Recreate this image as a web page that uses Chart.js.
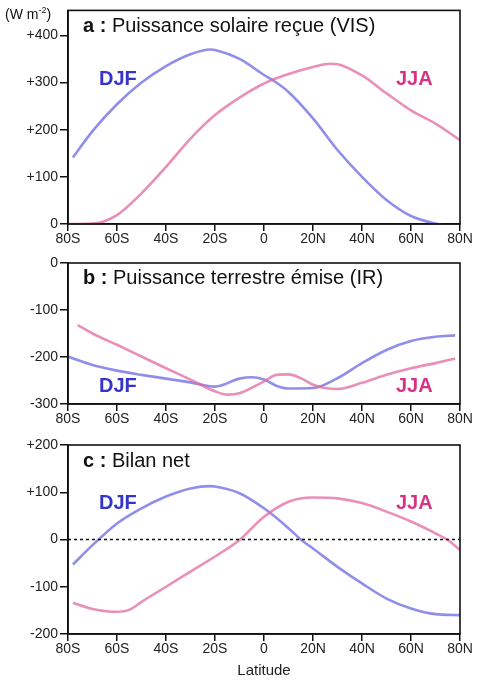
<!DOCTYPE html>
<html>
<head>
<meta charset="utf-8">
<script src="https://cdn.jsdelivr.net/npm/chart.js@4"></script>
<style>
  html,body{margin:0;padding:0;background:#fff;}
  body{width:481px;height:680px;position:relative;overflow:hidden;font-family:"Liberation Sans",Arial,sans-serif;}
  .box{position:absolute;left:0;width:481px;}
  .t{position:absolute;white-space:nowrap;color:#111;line-height:1;}
  .title{font-size:20px;}
  .title b{font-size:20px;}
  .djf{color:#3535cc;font-weight:bold;font-size:20px;}
  .jja{color:#d63384;font-weight:bold;font-size:20px;}
</style>
</head>
<body>
<div class="box" style="top:0;height:250px;"><canvas id="ca"></canvas></div>
<div class="box" style="top:250px;height:175px;"><canvas id="cb"></canvas></div>
<div class="box" style="top:425px;height:255px;"><canvas id="cc"></canvas></div>

<div class="t" style="left:5px;top:6px;font-size:14px;">(W m<sup style="font-size:9px;">-2</sup>)</div>
<div class="t title" style="left:83px;top:15px;"><b>a :</b> Puissance solaire reçue (VIS)</div>
<div class="t title" style="left:83px;top:267px;"><b>b :</b> Puissance terrestre émise (IR)</div>
<div class="t title" style="left:83px;top:450px;"><b>c :</b> Bilan net</div>
<div class="t djf" style="left:99px;top:68px;">DJF</div>
<div class="t jja" style="left:396px;top:68px;">JJA</div>
<div class="t djf" style="left:99px;top:375px;">DJF</div>
<div class="t jja" style="left:396px;top:375px;">JJA</div>
<div class="t djf" style="left:99px;top:492px;">DJF</div>
<div class="t jja" style="left:396px;top:492px;">JJA</div>

<script>
// ---- tick labels ----
const latTicks = [-80,-60,-40,-20,0,20,40,60,80];
const latLabels = ['80S','60S','40S','20S','0','20N','40N','60N','80N'];
const yTicksA = [0,100,200,300,400];
const yLabelsA = ['0','+100','+200','+300','+400'];
const yTicksB = [-300,-200,-100,0];
const yLabelsB = ['-300','-200','-100','0'];
const yTicksC = [-200,-100,0,100,200];
const yLabelsC = ['-200','-100','0','+100','+200'];

// ---- panel a : solar (VIS) ----
const latA_DJF = [-78,-70,-60,-50,-40,-30,-22,-20,-10,0,5,10,20,30,40,50,60,70,75,80];
const valA_DJF = [141,197,254,300,335,360,370,369,350,316,300,280,224,157,100,51,17,1,-3,-2];
const latA_JJA = [-80,-70,-60,-50,-40,-30,-20,-10,0,10,20,27,30,40,50,60,70,80];
const valA_JJA = [0,1,19,65,121,181,231,268,298,318,333,340,339,315,277,241,213,178];

// ---- panel b : terrestrial (IR) ----
const latB_DJF = [-80,-70,-60,-50,-40,-30,-20,-10,-5,0,5,10,20,30,40,50,60,70,78];
const valB_DJF = [-199,-217,-229,-238,-246,-254,-263,-246,-243,-248,-261,-267,-266,-245,-213,-185,-166,-157,-154];
const latB_JJA = [-76,-70,-60,-50,-40,-30,-20,-15,-10,0,5,10,15,20,25,30,40,50,60,70,78];
const valB_JJA = [-132,-150,-174,-199,-224,-248,-273,-280,-277,-252,-238,-237,-245,-259,-266,-268,-255,-238,-224,-213,-203];

// ---- panel c : net balance ----
const latC_DJF = [-78,-70,-60,-50,-40,-30,-22,-20,-10,0,10,15,20,30,40,50,60,70,80];
const valC_DJF = [-53,-12,34,66,91,108,113,112,98,66,24,0,-19,-58,-93,-125,-146,-158,-160];
const latC_JJA = [-78,-70,-60,-55,-50,-40,-30,-20,-10,0,10,20,30,40,50,60,70,75,80];
const valC_JJA = [-134,-147,-153,-149,-132,-100,-68,-36,-1,48,80,89,87,77,59,38,13,-1,-22];

const zeroLat = [-80,80];
const zeroVal = [0,0];

const BLUE = 'rgba(105,105,228,0.75)';
const PINK = 'rgba(225,105,160,0.75)';

function pts(xs, ys){ return xs.map((x,i)=>({x:x,y:ys[i]})); }

const frame = {
  id:'frame',
  afterDraw(chart){
    const a = chart.chartArea, c = chart.ctx;
    c.save(); c.strokeStyle='#111'; c.lineWidth=1.6;
    c.strokeRect(a.left, a.top, a.right-a.left, a.bottom-a.top);
    c.restore();
  }
};

const FONT = '"Liberation Sans", Arial, sans-serif';

function makeChart(id, datasets, yMin, yMax, yTicks, yLabels, padTop, xHeight, xTitle){
  return new Chart(document.getElementById(id), {
    type:'line',
    data:{datasets:datasets},
    options:{
      responsive:true, maintainAspectRatio:false, animation:false,
      layout:{padding:{top:padTop,right:21,bottom:0,left:0}},
      plugins:{legend:{display:false}, tooltip:{enabled:false}},
      elements:{point:{radius:0}},
      scales:{
        x:{type:'linear', min:-80, max:80,
           afterBuildTicks(s){ s.ticks = latTicks.map(v=>({value:v})); },
           afterFit(s){ s.height = xHeight; },
           ticks:{callback:(v)=>latLabels[latTicks.indexOf(v)], color:'#222', padding:0, maxRotation:0,
                  font:{family:FONT, size:14}},
           grid:{drawOnChartArea:false, drawTicks:true, tickLength:7, color:'#111', lineWidth:1.5},
           border:{display:true, color:'#111', width:1.6},
           title:{display:!!xTitle, text:xTitle||'', color:'#222', padding:{top:1,bottom:0},
                  font:{family:FONT, size:15}}
        },
        y:{type:'linear', min:yMin, max:yMax,
           afterBuildTicks(s){ s.ticks = yTicks.map(v=>({value:v})); },
           afterFit(s){ s.width = 68; },
           ticks:{callback:(v)=>yLabels[yTicks.indexOf(v)], color:'#222', padding:2,
                  font:{family:FONT, size:14}},
           grid:{drawOnChartArea:false, drawTicks:true, tickLength:8, color:'#111', lineWidth:1.5},
           border:{display:true, color:'#111', width:1.6}
        }
      }
    },
    plugins:[frame]
  });
}

function line(xs, ys, color){
  return {data:pts(xs,ys), borderColor:color, borderWidth:2.6, cubicInterpolationMode:'monotone', fill:false, pointRadius:0};
}

makeChart('ca', [line(latA_JJA,valA_JJA,PINK), line(latA_DJF,valA_DJF,BLUE)], 0, 453, yTicksA, yLabelsA, 10, 26, '');
makeChart('cb', [line(latB_JJA,valB_JJA,PINK), line(latB_DJF,valB_DJF,BLUE)], -300, 0, yTicksB, yLabelsB, 13, 21, '');
makeChart('cc', [
  {data:pts(zeroLat,zeroVal), borderColor:'#111', borderWidth:1.5, borderDash:[3,3], pointRadius:0, fill:false},
  line(latC_JJA,valC_JJA,PINK), line(latC_DJF,valC_DJF,BLUE)], -200, 200, yTicksC, yLabelsC, 20, 46, 'Latitude');
</script>
</body>
</html>
